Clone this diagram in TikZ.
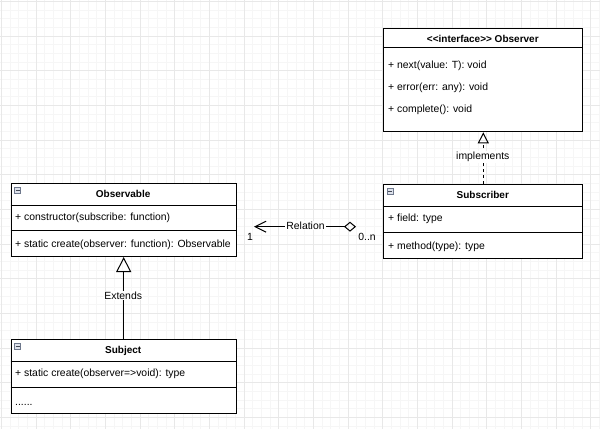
\documentclass[tikz,border=0pt]{standalone}
\usepackage{fontspec}
\setmainfont{Liberation Sans}
\usetikzlibrary{arrows.meta,positioning}
\definecolor{umlgrid}{RGB}{232,232,232}
\definecolor{umlgridlight}{RGB}{246,246,246}
\definecolor{umliconfill}{RGB}{222,226,236}
\definecolor{umlicondraw}{RGB}{110,120,140}
\tikzstyle{classbox} = [draw=black, line width=1pt, fill=white, inner sep=0pt, anchor=north west]
\tikzstyle{classname} = [font=\bfseries, inner sep=0pt, anchor=mid]
\tikzstyle{member} = [inner sep=0pt, anchor=mid west]
\tikzstyle{edgelabel} = [fill=white, inner sep=1pt, anchor=mid]
\tikzstyle{sepline} = [line width=1pt]
\tikzstyle{iconbox} = [draw=umlicondraw, fill=umliconfill, line width=0.6pt]

\begin{document}
\begin{tikzpicture}[x=1pt, y=-1pt, font=\fontsize{10.4}{12}\selectfont]
\useasboundingbox (0,0) rectangle (600,429);
% Grid
\foreach \i in {0,...,69} \draw[umlgridlight, line width=0.6pt] ({1.33+8.667*\i},0) -- ({1.33+8.667*\i},429);
\foreach \i in {0,...,49} \draw[umlgridlight, line width=0.6pt] (0,{1.33+8.667*\i}) -- (600,{1.33+8.667*\i});
\foreach \i in {0,...,17} \draw[umlgrid, line width=0.8pt] ({1.33+34.667*\i},0) -- ({1.33+34.667*\i},429);
\foreach \i in {0,...,12} \draw[umlgrid, line width=0.8pt] (0,{1.33+34.667*\i}) -- (600,{1.33+34.667*\i});

% Classes
\node[classbox, minimum width=199pt, minimum height=103pt] (observer) at (383.3,28.3) {};
\node[classname] (observername) at (482.8,39.7) {\textless{}\textless{}interface\textgreater{}\textgreater{} Observer};
\draw[sepline] (observer.west |- 0,47.7) -- (observer.east |- 0,47.7);
\node[member] (obsnext) at (388,65.7) {+ next(value: T): void};
\node[member] (obserror) at (388,87.7) {+ error(err: any): void};
\node[member] (obscomplete) at (388,110) {+ complete(): void};

\node[classbox, minimum width=225pt, minimum height=72.7pt] (observable) at (10.7,183.3) {};
\node[classname] (observablename) at (123.2,194.5) {Observable};
\draw[sepline] (observable.west |- 0,205) -- (observable.east |- 0,205);
\draw[sepline] (observable.west |- 0,230.5) -- (observable.east |- 0,230.5);
\node[member] (ctor) at (15,217.5) {+ constructor(subscribe: function)};
\node[member] (create) at (15,245) {+ static create(observer: function): Observable};

\node[classbox, minimum width=199pt, minimum height=74.3pt] (subscriber) at (383.3,184) {};
\node[classname] (subscribername) at (482.8,195.5) {Subscriber};
\draw[sepline] (subscriber.west |- 0,206) -- (subscriber.east |- 0,206);
\draw[sepline] (subscriber.west |- 0,232.3) -- (subscriber.east |- 0,232.3);
\node[member] (field) at (388,218.5) {+ field: type};
\node[member] (method) at (388,247.3) {+ method(type): type};

\node[classbox, minimum width=225pt, minimum height=74pt] (subject) at (10.7,339.3) {};
\node[classname] (subjectname) at (123.2,351) {Subject};
\draw[sepline] (subject.west |- 0,361.7) -- (subject.east |- 0,361.7);
\draw[sepline] (subject.west |- 0,387.3) -- (subject.east |- 0,387.3);
\node[member] (subjcreate) at (15,373.8) {+ static create(observer=>void): type};
\node[member] (subjmore) at (15,403) {......};

% Collapse icons
\draw[iconbox] (14.5,187.5) rectangle (20.5,193.5);
\draw[umlicondraw!60!black, line width=0.8pt] (15.5,190.5) -- (19.5,190.5);
\draw[iconbox] (387.3,188) rectangle (393.3,194);
\draw[umlicondraw!60!black, line width=0.8pt] (388.3,191) -- (392.3,191);
\draw[iconbox] (14.7,343.5) rectangle (20.7,349.5);
\draw[umlicondraw!60!black, line width=0.8pt] (15.7,346.5) -- (19.7,346.5);

% Arrows
\coordinate (relhead) at (254,226.7);
\coordinate (reltail) at (356,226.7);
\draw[line width=1pt, {Diamond[open, length=12pt, width=10pt]}-{Straight Barb[length=11pt, width=11pt, line width=1pt]}] (reltail) -- (relhead);
\draw[line width=1pt, -{Triangle[open, length=15pt, width=15pt, line width=1pt]}] (subject.north) -- (observable.south);
\draw[line width=1pt, dash pattern=on 3pt off 3pt, -{Triangle[open, length=11pt, width=11pt, line width=1pt]}] (subscriber.north) -- (observer.south);

% Labels
\node[edgelabel] (rellabel) at (305.5,226.7) {Relation};
\node[edgelabel] (implabel) at (482.8,156.7) {implements};
\node[edgelabel] (extlabel) at (123.2,296.7) {Extends};
\node[anchor=mid, inner sep=0pt] (relone) at (250,238.3) {1};
\node[anchor=mid, inner sep=0pt] (relmany) at (367,238.3) {0..n};
\end{tikzpicture}
\end{document}
